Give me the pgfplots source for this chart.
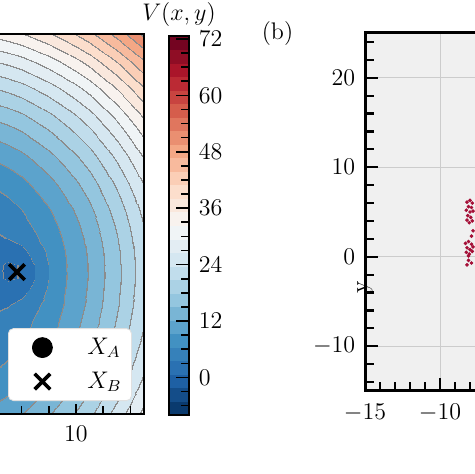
\documentclass[border=0pt]{standalone}
\usepackage{fontspec}
\usepackage{pgfplots}
\usepackage{pgfplotstable}
\pgfplotsset{compat=1.18}
\definecolor{trajred}{RGB}{165,15,55}
\definecolor{axbg}{RGB}{240,240,240}
\pgfplotsset{
  colormap={bandsL}{rgb255(0pt)=(10,58,110)
   rgb255(2.83pt)=(140,140,140) rgb255(2.93pt)=(20,77,137)
   rgb255(5.71pt)=(140,140,140) rgb255(5.81pt)=(30,96,164)
   rgb255(8.61pt)=(140,140,140) rgb255(8.67pt)=(42,113,178)
   rgb255(11.475pt)=(140,140,140) rgb255(11.565pt)=(54,129,186)
   rgb255(14.337pt)=(140,140,140) rgb255(14.463pt)=(66,145,194)
   rgb255(17.201pt)=(140,140,140) rgb255(17.359pt)=(92,163,204)
   rgb255(20.068pt)=(140,140,140) rgb255(20.252pt)=(121,181,213)
   rgb255(22.936pt)=(140,140,140) rgb255(23.144pt)=(148,198,223)
   rgb255(25.806pt)=(140,140,140) rgb255(26.034pt)=(171,210,229)
   rgb255(28.676pt)=(140,140,140) rgb255(28.924pt)=(193,221,236)
   rgb255(31.547pt)=(140,140,140) rgb255(31.813pt)=(213,231,241)
   rgb255(34.42pt)=(140,140,140) rgb255(34.70pt)=(227,237,243)
   rgb255(37.291pt)=(140,140,140) rgb255(37.589pt)=(240,244,246)
   rgb255(40.165pt)=(140,140,140) rgb255(40.475pt)=(248,242,238)
   rgb255(43.037pt)=(140,140,140) rgb255(43.363pt)=(250,232,221)
   rgb255(45.91pt)=(140,140,140) rgb255(46.25pt)=(252,222,204)
   rgb255(48.783pt)=(140,140,140) rgb255(49.137pt)=(251,206,182)
   rgb255(51.657pt)=(140,140,140) rgb255(52.023pt)=(248,186,157)
   rgb255(54.531pt)=(140,140,140) rgb255(54.909pt)=(244,167,133)
   rgb255(57.405pt)=(140,140,140) rgb255(57.795pt)=(234,143,113)
   rgb255(60.28pt)=(140,140,140) rgb255(60.68pt)=(224,118,94)
   rgb255(63.16pt)=(140,140,140) rgb255(63.56pt)=(213,93,76)
   rgb255(66.04pt)=(140,140,140) rgb255(66.44pt)=(200,68,64)
   rgb255(68.92pt)=(140,140,140) rgb255(69.32pt)=(187,42,52)
   rgb255(71.8pt)=(140,140,140) rgb255(72.2pt)=(170,21,42)
   rgb255(74.68pt)=(140,140,140) rgb255(75.08pt)=(143,13,37)
   rgb255(77.56pt)=(140,140,140) rgb255(77.96pt)=(116,4,33)
   rgb255(80.64pt)=(116,4,33)},
  colormap={bandsC}{rgb255(0pt)=(10,58,110) rgb255(2.88pt)=(20,77,137) rgb255(5.76pt)=(30,96,164)
   rgb255(8.64pt)=(42,113,178) rgb255(11.52pt)=(54,129,186) rgb255(14.4pt)=(66,145,194)
   rgb255(17.28pt)=(92,163,204) rgb255(20.16pt)=(121,181,213) rgb255(23.04pt)=(148,198,223)
   rgb255(25.92pt)=(171,210,229) rgb255(28.8pt)=(193,221,236) rgb255(31.68pt)=(213,231,241)
   rgb255(34.56pt)=(227,237,243) rgb255(37.44pt)=(240,244,246) rgb255(40.32pt)=(248,242,238)
   rgb255(43.2pt)=(250,232,221) rgb255(46.08pt)=(252,222,204) rgb255(48.96pt)=(251,206,182)
   rgb255(51.84pt)=(248,186,157) rgb255(54.72pt)=(244,167,133) rgb255(57.6pt)=(234,143,113)
   rgb255(60.48pt)=(224,118,94) rgb255(63.36pt)=(213,93,76) rgb255(66.24pt)=(200,68,64)
   rgb255(69.12pt)=(187,42,52) rgb255(72.0pt)=(170,21,42) rgb255(74.88pt)=(143,13,37)
   rgb255(77.76pt)=(116,4,33) rgb255(80.64pt)=(116,4,33)},
}
\pgfplotstableread[row sep=\\]{
x y z\\
4 -14 10.3\\ 5 -14 11.1\\ 6 -14 12.1\\ 7 -14 13.4\\ 8 -14 14.8\\ 9 -14 16.4\\ 10 -14 18.2\\ 11 -14 20.2\\ 12 -14 22.5\\ 13 -14 24.9\\ 14 -14 27.5\\ 15 -14 30.3\\
4 -13 8.9\\ 5 -13 9.7\\ 6 -13 10.7\\ 7 -13 12.0\\ 8 -13 13.4\\ 9 -13 15.0\\ 10 -13 16.8\\ 11 -13 18.8\\ 12 -13 21.1\\ 13 -13 23.5\\ 14 -13 26.1\\ 15 -13 28.9\\
4 -12 7.7\\ 5 -12 8.5\\ 6 -12 9.5\\ 7 -12 10.8\\ 8 -12 12.2\\ 9 -12 13.8\\ 10 -12 15.6\\ 11 -12 17.6\\ 12 -12 19.9\\ 13 -12 22.3\\ 14 -12 24.9\\ 15 -12 27.7\\
4 -11 6.5\\ 5 -11 7.3\\ 6 -11 8.3\\ 7 -11 9.6\\ 8 -11 11.0\\ 9 -11 12.6\\ 10 -11 14.4\\ 11 -11 16.4\\ 12 -11 18.7\\ 13 -11 21.1\\ 14 -11 23.7\\ 15 -11 26.5\\
4 -10 5.6\\ 5 -10 6.4\\ 6 -10 7.4\\ 7 -10 8.7\\ 8 -10 10.1\\ 9 -10 11.7\\ 10 -10 13.5\\ 11 -10 15.5\\ 12 -10 17.8\\ 13 -10 20.2\\ 14 -10 22.8\\ 15 -10 25.6\\
4 -9 4.7\\ 5 -9 5.5\\ 6 -9 6.5\\ 7 -9 7.8\\ 8 -9 9.2\\ 9 -9 10.8\\ 10 -9 12.6\\ 11 -9 14.6\\ 12 -9 16.9\\ 13 -9 19.3\\ 14 -9 21.9\\ 15 -9 24.7\\
4 -8 4.0\\ 5 -8 4.8\\ 6 -8 5.8\\ 7 -8 7.1\\ 8 -8 8.5\\ 9 -8 10.1\\ 10 -8 11.9\\ 11 -8 13.9\\ 12 -8 16.2\\ 13 -8 18.6\\ 14 -8 21.2\\ 15 -8 24.0\\
4 -7 3.5\\ 5 -7 4.3\\ 6 -7 5.3\\ 7 -7 6.6\\ 8 -7 8.0\\ 9 -7 9.6\\ 10 -7 11.4\\ 11 -7 13.4\\ 12 -7 15.7\\ 13 -7 18.1\\ 14 -7 20.7\\ 15 -7 23.5\\
4 -6 3.0\\ 5 -6 3.4\\ 6 -6 4.3\\ 7 -6 5.8\\ 8 -6 7.5\\ 9 -6 9.1\\ 10 -6 10.9\\ 11 -6 12.9\\ 12 -6 15.2\\ 13 -6 17.6\\ 14 -6 20.2\\ 15 -6 23.0\\
4 -5 2.1\\ 5 -5 2.0\\ 6 -5 2.8\\ 7 -5 4.8\\ 8 -5 7.0\\ 9 -5 8.9\\ 10 -5 10.7\\ 11 -5 12.7\\ 12 -5 15.0\\ 13 -5 17.4\\ 14 -5 20.0\\ 15 -5 22.8\\
4 -4 1.2\\ 5 -4 0.3\\ 6 -4 0.8\\ 7 -4 3.6\\ 8 -4 6.5\\ 9 -4 8.7\\ 10 -4 10.5\\ 11 -4 12.5\\ 12 -4 14.8\\ 13 -4 17.2\\ 14 -4 19.8\\ 15 -4 22.6\\
4 -3 1.2\\ 5 -3 0.3\\ 6 -3 0.8\\ 7 -3 3.6\\ 8 -3 6.5\\ 9 -3 8.7\\ 10 -3 10.5\\ 11 -3 12.5\\ 12 -3 14.8\\ 13 -3 17.2\\ 14 -3 19.8\\ 15 -3 22.6\\
4 -2 2.1\\ 5 -2 2.0\\ 6 -2 2.8\\ 7 -2 4.8\\ 8 -2 7.0\\ 9 -2 8.9\\ 10 -2 10.7\\ 11 -2 12.7\\ 12 -2 15.0\\ 13 -2 17.4\\ 14 -2 20.0\\ 15 -2 22.8\\
4 -1 3.2\\ 5 -1 3.6\\ 6 -1 4.5\\ 7 -1 6.0\\ 8 -1 7.7\\ 9 -1 9.3\\ 10 -1 11.1\\ 11 -1 13.1\\ 12 -1 15.4\\ 13 -1 17.8\\ 14 -1 20.4\\ 15 -1 23.2\\
4 0 3.8\\ 5 0 4.6\\ 6 0 5.6\\ 7 0 6.9\\ 8 0 8.3\\ 9 0 9.9\\ 10 0 11.7\\ 11 0 13.7\\ 12 0 16.0\\ 13 0 18.4\\ 14 0 21.0\\ 15 0 23.8\\
4 1 4.6\\ 5 1 5.4\\ 6 1 6.4\\ 7 1 7.7\\ 8 1 9.1\\ 9 1 10.7\\ 10 1 12.5\\ 11 1 14.5\\ 12 1 16.8\\ 13 1 19.2\\ 14 1 21.8\\ 15 1 24.6\\
4 2 5.6\\ 5 2 6.4\\ 6 2 7.4\\ 7 2 8.7\\ 8 2 10.1\\ 9 2 11.7\\ 10 2 13.5\\ 11 2 15.5\\ 12 2 17.8\\ 13 2 20.2\\ 14 2 22.8\\ 15 2 25.6\\
4 3 6.8\\ 5 3 7.6\\ 6 3 8.6\\ 7 3 9.9\\ 8 3 11.3\\ 9 3 12.9\\ 10 3 14.7\\ 11 3 16.7\\ 12 3 19.0\\ 13 3 21.4\\ 14 3 24.0\\ 15 3 26.8\\
4 4 8.2\\ 5 4 9.0\\ 6 4 10.0\\ 7 4 11.3\\ 8 4 12.7\\ 9 4 14.3\\ 10 4 16.1\\ 11 4 18.1\\ 12 4 20.4\\ 13 4 22.8\\ 14 4 25.4\\ 15 4 28.2\\
4 5 9.8\\ 5 5 10.6\\ 6 5 11.6\\ 7 5 12.9\\ 8 5 14.3\\ 9 5 15.9\\ 10 5 17.7\\ 11 5 19.7\\ 12 5 22.0\\ 13 5 24.4\\ 14 5 27.0\\ 15 5 29.8\\
4 6 11.6\\ 5 6 12.4\\ 6 6 13.4\\ 7 6 14.7\\ 8 6 16.1\\ 9 6 17.7\\ 10 6 19.5\\ 11 6 21.5\\ 12 6 23.8\\ 13 6 26.2\\ 14 6 28.8\\ 15 6 31.6\\
4 7 13.6\\ 5 7 14.4\\ 6 7 15.4\\ 7 7 16.7\\ 8 7 18.1\\ 9 7 19.7\\ 10 7 21.5\\ 11 7 23.5\\ 12 7 25.8\\ 13 7 28.2\\ 14 7 30.8\\ 15 7 33.6\\
4 8 15.8\\ 5 8 16.6\\ 6 8 17.6\\ 7 8 18.9\\ 8 8 20.3\\ 9 8 21.9\\ 10 8 23.7\\ 11 8 25.7\\ 12 8 28.0\\ 13 8 30.4\\ 14 8 33.0\\ 15 8 35.8\\
4 9 18.2\\ 5 9 19.0\\ 6 9 20.0\\ 7 9 21.3\\ 8 9 22.7\\ 9 9 24.3\\ 10 9 26.1\\ 11 9 28.1\\ 12 9 30.4\\ 13 9 32.8\\ 14 9 35.4\\ 15 9 38.2\\
4 10 20.8\\ 5 10 21.6\\ 6 10 22.6\\ 7 10 23.9\\ 8 10 25.3\\ 9 10 26.9\\ 10 10 28.7\\ 11 10 30.7\\ 12 10 33.0\\ 13 10 35.4\\ 14 10 38.0\\ 15 10 40.8\\
4 11 23.6\\ 5 11 24.4\\ 6 11 25.4\\ 7 11 26.7\\ 8 11 28.1\\ 9 11 29.7\\ 10 11 31.5\\ 11 11 33.5\\ 12 11 35.8\\ 13 11 38.2\\ 14 11 40.8\\ 15 11 43.6\\
4 12 26.6\\ 5 12 27.4\\ 6 12 28.4\\ 7 12 29.7\\ 8 12 31.1\\ 9 12 32.7\\ 10 12 34.5\\ 11 12 36.5\\ 12 12 38.8\\ 13 12 41.2\\ 14 12 43.8\\ 15 12 46.6\\
4 13 29.8\\ 5 13 30.6\\ 6 13 31.6\\ 7 13 32.9\\ 8 13 34.3\\ 9 13 35.9\\ 10 13 37.7\\ 11 13 39.7\\ 12 13 42.0\\ 13 13 44.4\\ 14 13 47.0\\ 15 13 49.8\\
4 14 33.2\\ 5 14 34.0\\ 6 14 35.0\\ 7 14 36.3\\ 8 14 37.7\\ 9 14 39.3\\ 10 14 41.1\\ 11 14 43.1\\ 12 14 45.4\\ 13 14 47.8\\ 14 14 50.4\\ 15 14 53.2\\
}\potential
\pgfplotstableread[row sep=\\]{
x y z\\
0 -8 -8\\ 1 -8 -8\\
0 72.64 72.64\\ 1 72.64 72.64\\
}\cbar
\pgfplotstableread[row sep=\\]{
x y\\
-8.2 6.1\\ -8.0 6.3\\ -7.85 6.0\\ -8.1 5.6\\ -7.9 5.5\\ -8.25 5.2\\ -8.0 5.0\\ -7.8 5.1\\ -8.15 4.6\\ -7.95 4.4\\ -8.2 4.1\\ -7.85 4.0\\ -8.05 3.8\\
-7.8 2.9\\ -7.9 2.3\\
-8.3 1.5\\ -8.1 1.7\\ -7.9 1.4\\ -8.2 1.0\\ -8.0 0.8\\ -7.8 1.1\\ -8.25 0.5\\ -8.05 0.3\\ -7.85 0.6\\ -8.1 0.1\\ -8.1 -0.4\\ -7.9 -0.7\\ -8.2 -0.9\\
}\traj
\begin{document}
\fontsize{12}{14.4}\selectfont
\begin{tikzpicture}
% ---------- left panel (contour) ----------
\begin{axis}[
  at={(-132pt,30pt)}, anchor=south west,
  scale only axis, width=204pt, height=190pt,
  xmin=-15, xmax=15, ymin=-14, ymax=14,
  point meta min=-8, point meta max=72.64,
  xtick={-10,0,10}, minor xtick={-14,-12,...,14},
  xticklabels={{},{},$10$},
  ytick={-10,0,10}, minor ytick={-14,-12,...,14},
  yticklabels={{},{},{}},
  xtick pos=left, ytick pos=left,
  tick align=inside,
  major tick length=5pt, minor tick length=4pt,
  every tick/.style={black, line width=0.8pt},
  axis line style={line width=1pt},
  xticklabel style={yshift=-2pt},
  axis on top,
  legend style={draw=black!12, fill=white, rounded corners=2.5pt,
    at={(0.6667,0.0342)}, anchor=south west,
    inner xsep=5pt, inner ysep=4.5pt, row sep=7pt, column sep=10.5pt,
    nodes={inner sep=0pt}, cells={anchor=west}},
  legend image code/.code={\path[draw=none, fill=none] (0pt,-5pt) rectangle (24pt,5pt); \draw[#1, sharp corners] plot coordinates {(12pt,0pt)};},
]
\addplot[surf, shader=interp, colormap name=bandsL, colormap access=piecewise constant,
  point meta=\thisrow{z}, mesh/cols=12, forget plot] table[x=x, y=y] {\potential};
\addplot[only marks, mark=*, mark size=5pt, black, forget plot] coordinates {(-5.66,-3.54)};
\addplot[only marks, mark=x, mark size=5.5pt, line width=1.8pt, black, forget plot] coordinates {(5.66,-3.54)};
\addlegendimage{mark=*, mark size=5pt, black}
\addlegendentry{$X_A$}
\addlegendimage{mark=x, mark size=5.5pt, line width=1.8pt, black}
\addlegendentry{$X_B$}
\end{axis}
% ---------- colorbar ----------
\begin{axis}[
  at={(84.5pt,219pt)}, anchor=north west,
  scale only axis, width=10pt, height=189.5pt,
  xmin=0, xmax=1, ymin=-8, ymax=72.64,
  point meta min=-8, point meta max=72.64,
  xtick=\empty,
  ytick={0,12,...,72}, minor ytick={-6,-3,...,72},
  ytick pos=right, yticklabel pos=right,
  tick align=inside,
  major tick length=6.5pt, minor tick length=4pt,
  every tick/.style={black, line width=0.8pt},
  axis line style={line width=0.8pt},
  yticklabel style={xshift=0.7pt},
  axis on top,
]
\addplot[surf, shader=interp, colormap name=bandsC, colormap access=piecewise constant,
  point meta=\thisrow{z}, mesh/cols=2] table[x=x, y=y] {\cbar};
\end{axis}
\node[anchor=base] at (89.5pt,226.5pt) {$V(x,y)$};
% ---------- right panel ----------
\begin{axis}[
  at={(182.5pt,41.5pt)}, anchor=south west,
  scale only axis, width=225pt, height=179pt,
  xmin=-15, xmax=15, ymin=-15, ymax=25,
  axis background/.style={fill=axbg},
  grid=major, major grid style={line width=0.5pt, black!20},
  xtick={-15,-10,-5,0,5,10,15}, minor xtick={-15,-14,...,15},
  xticklabels={$-15$,$-10$,{},{},{},{},{}},
  ytick={-10,0,10,20}, minor ytick={-14,-12,...,24},
  xtick pos=left, ytick pos=left,
  tick align=inside,
  major tick length=6.5pt, minor tick length=4.5pt,
  every tick/.style={black, line width=1.1pt},
  axis line style={line width=1.5pt},
  xticklabel style={yshift=-2.5pt},
  yticklabel style={xshift=-0.7pt},
  ylabel={y},
  every axis y label/.style={at={(axis description cs:0,0.5)}, rotate=90, anchor=center, xshift=-37.5pt},
]
\addplot[only marks, mark=*, mark size=0.7pt, color=trajred] table[x=x, y=y] {\traj};
\end{axis}
\node at (138.75pt,220pt) {(b)};
\pgfresetboundingbox
\path[use as bounding box] (0pt,0pt) rectangle (237pt,237pt);
\end{tikzpicture}
\end{document}
